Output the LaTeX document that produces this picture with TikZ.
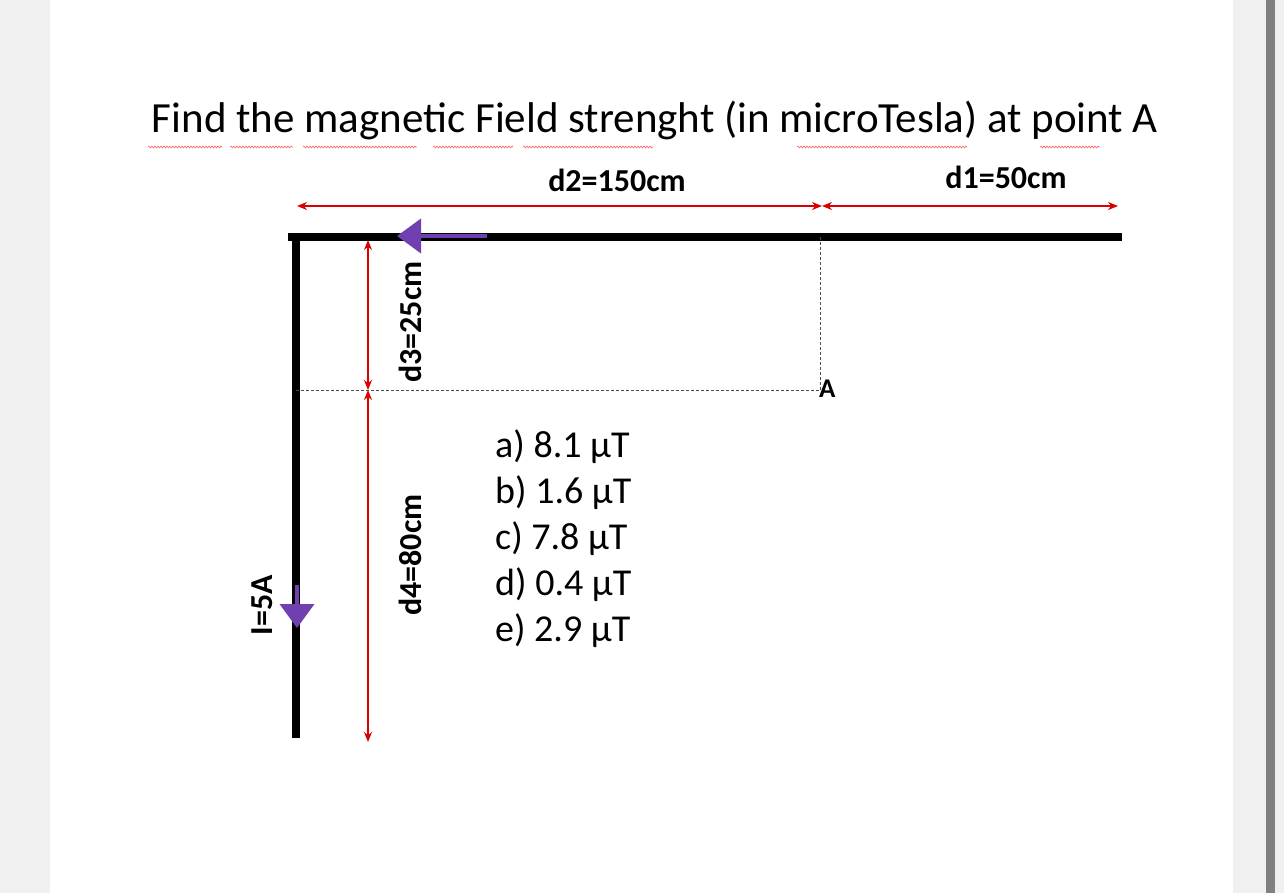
\documentclass[tikz,border=0pt]{standalone}
\usepackage{fontspec}
\setmainfont{Carlito}
\usetikzlibrary{arrows.meta,decorations.pathmorphing}
\definecolor{curcol}{RGB}{112,64,176}
\begin{document}
\begin{tikzpicture}[x=1pt,y=-1pt,
 wire/.style={line width=8pt,black},
 dim/.style={red!85!black,line width=1.5pt,{Stealth[length=10pt,width=8pt]}-{Stealth[length=10pt,width=8pt]}},
 guide/.style={densely dashed,line width=0.6pt,black!70},
 cur/.style={line width=4pt,curcol,-{Triangle[length=24pt,width=34pt]}},
 lab/.style={font=\fontsize{32}{36}\selectfont\bfseries,inner sep=0},
 ans/.style={font=\fontsize{38}{44}\selectfont,anchor=west,inner sep=0},
 squig/.style={red!60,line width=0.6pt,decorate,decoration={snake,amplitude=1pt,segment length=3pt}}]
\useasboundingbox (0,0) rectangle (1284,893);
\fill[black!6] (0,0) rectangle (50,893);
\fill[black!6] (1233,0) rectangle (1284,893);
\fill[black!50] (1266,0) rectangle (1275,893);
\fill[white] (50,0) rectangle (1233,893);
\node[font=\fontsize{43}{48}\selectfont,inner sep=0] (title) at (655,120) {Find the magnetic Field strenght (in microTesla) at point A};
\foreach \a/\b in {148/222,230/293,303/417,433/513,523/653,797/967,1040/1100}
  \draw[squig] (\a,147) -- (\b,147);
\coordinate (TR) at (1122,237);
\coordinate (BL) at (296,738);
\coordinate (P) at (820,237); \coordinate (A) at (820,390); \coordinate (L) at (296,390);
\draw[wire] (BL) -- (296,237) -- (TR);
\draw[wire] (288,237) -- (300,237);
\draw[guide] (P) -- (A); \draw[guide] (L) -- (A);
\node[font=\fontsize{27}{30}\selectfont\bfseries,anchor=north west,inner sep=0] (Alab) at (819,380) {A};
\coordinate (d2l) at (297,206); \coordinate (d2r) at (822,206); \coordinate (d1r) at (1118,206);
\draw[dim] (d2l) -- (d2r); \draw[dim] (d2r) -- (d1r);
\node[lab] (d2) at (617,180) {d2=150cm};
\node[lab] (d1) at (1006,177) {d1=50cm};
\coordinate (d3t) at (368,240); \coordinate (d3b) at (368,390); \coordinate (d4b) at (368,742);
\draw[dim] (d3t) -- (d3b); \draw[dim] (d3b) -- (d4b);
\node[lab,rotate=90] (d3) at (410,322) {d3=25cm};
\node[lab,rotate=90] (d4) at (410,555) {d4=80cm};
\node[lab,rotate=90] (I) at (262,605) {I=5A};
\coordinate (c1a) at (487,236); \coordinate (c1b) at (397,236);
\draw[cur] (c1a) -- (c1b);
\coordinate (c2a) at (297,585); \coordinate (c2b) at (297,628);
\draw[cur] (c2a) -- (c2b);
\node[ans] (a) at (495,447) {a) 8.1 µT};
\node[ans] (b) at (495,493) {b) 1.6 µT};
\node[ans] (c) at (495,539) {c) 7.8 µT};
\node[ans] (d) at (495,585) {d) 0.4 µT};
\node[ans] (e) at (495,631) {e) 2.9 µT};
\end{tikzpicture}
\end{document}
